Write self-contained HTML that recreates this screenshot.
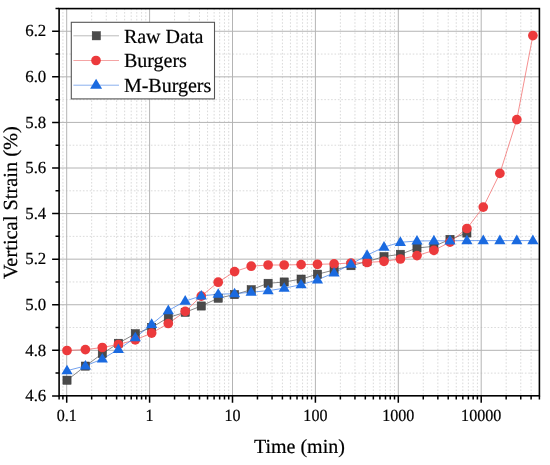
<!DOCTYPE html><html><head><meta charset="utf-8"><style>html,body{margin:0;padding:0;background:#fff;}svg{display:block;}text{text-rendering:geometricPrecision;stroke:#000;stroke-width:0.2px;font-family:"Liberation Serif","Times New Roman",serif;fill:#000;}</style></head><body>
<svg width="550" height="465" viewBox="0 0 550 465">
<rect width="550" height="465" fill="#fff"/>
<path d="M62.91 8.60V395.80M91.66 8.60V395.80M106.25 8.60V395.80M116.61 8.60V395.80M124.64 8.60V395.80M131.21 8.60V395.80M136.76 8.60V395.80M141.57 8.60V395.80M145.81 8.60V395.80M174.56 8.60V395.80M189.15 8.60V395.80M199.51 8.60V395.80M207.54 8.60V395.80M214.11 8.60V395.80M219.66 8.60V395.80M224.47 8.60V395.80M228.71 8.60V395.80M257.46 8.60V395.80M272.05 8.60V395.80M282.41 8.60V395.80M290.44 8.60V395.80M297.01 8.60V395.80M302.56 8.60V395.80M307.37 8.60V395.80M311.61 8.60V395.80M340.36 8.60V395.80M354.95 8.60V395.80M365.31 8.60V395.80M373.34 8.60V395.80M379.91 8.60V395.80M385.46 8.60V395.80M390.27 8.60V395.80M394.51 8.60V395.80M423.26 8.60V395.80M437.85 8.60V395.80M448.21 8.60V395.80M456.24 8.60V395.80M462.81 8.60V395.80M468.36 8.60V395.80M473.17 8.60V395.80M477.41 8.60V395.80M506.16 8.60V395.80M520.75 8.60V395.80M531.11 8.60V395.80M59.10 373.11H539.40M59.10 327.53H539.40M59.10 281.95H539.40M59.10 236.37H539.40M59.10 190.79H539.40M59.10 145.21H539.40M59.10 99.63H539.40M59.10 54.05H539.40" stroke="#d6d6d6" stroke-width="0.9" stroke-dasharray="1.6 1.8" fill="none"/>
<path d="M66.70 8.60V395.80M149.60 8.60V395.80M232.50 8.60V395.80M315.40 8.60V395.80M398.30 8.60V395.80M481.20 8.60V395.80M59.10 350.32H539.40M59.10 304.74H539.40M59.10 259.16H539.40M59.10 213.58H539.40M59.10 168.00H539.40M59.10 122.42H539.40M59.10 76.84H539.40M59.10 31.26H539.40" stroke="#b4b4b4" stroke-width="1" fill="none"/>
<polyline points="67.00,380.20 85.39,366.10 102.31,353.60 118.38,343.30 135.30,333.70 151.66,327.50 168.29,317.50 185.21,312.30 201.28,306.00 218.20,298.20 234.56,294.60 251.19,289.70 268.11,283.30 284.18,282.00 301.10,279.10 317.46,274.20 334.09,270.00 351.01,265.70 367.08,261.50 384.00,256.60 400.36,254.30 416.99,248.00 433.91,246.30 449.98,239.40 466.90,233.00" fill="none" stroke="#555" stroke-width="0.7"/>
<polyline points="67.00,350.50 85.39,349.60 102.31,347.50 118.38,344.50 135.30,339.90 151.66,333.10 168.29,323.50 185.21,311.40 201.28,296.10 218.20,282.20 234.56,271.60 251.19,266.20 268.11,265.00 284.18,265.00 301.10,264.60 317.46,264.30 334.09,263.90 351.01,263.00 367.08,262.50 384.00,261.30 400.36,259.00 416.99,255.60 433.91,250.40 449.98,242.10 466.90,228.50 483.26,207.10 499.89,173.40 516.81,119.60 532.88,35.60" fill="none" stroke="#f06060" stroke-width="0.7"/>
<polyline points="67.00,370.70 85.39,365.90 102.31,359.00 118.38,349.40 135.30,337.70 151.66,324.30 168.29,310.60 185.21,301.10 201.28,295.90 218.20,294.20 234.56,293.70 251.19,292.20 268.11,290.70 284.18,288.20 301.10,284.70 317.46,279.80 334.09,272.90 351.01,264.20 367.08,255.20 384.00,247.10 400.36,242.30 416.99,241.00 433.91,240.80 449.98,240.80 466.90,240.60 483.26,240.60 499.89,240.60 516.81,240.60 532.88,240.60" fill="none" stroke="#3a7be8" stroke-width="0.7"/>
<rect x="62.90" y="376.10" width="8.2" height="8.2" fill="#4a4a4a" stroke="#333" stroke-width="0.5"/>
<rect x="81.29" y="362.00" width="8.2" height="8.2" fill="#4a4a4a" stroke="#333" stroke-width="0.5"/>
<rect x="98.21" y="349.50" width="8.2" height="8.2" fill="#4a4a4a" stroke="#333" stroke-width="0.5"/>
<rect x="114.28" y="339.20" width="8.2" height="8.2" fill="#4a4a4a" stroke="#333" stroke-width="0.5"/>
<rect x="131.20" y="329.60" width="8.2" height="8.2" fill="#4a4a4a" stroke="#333" stroke-width="0.5"/>
<rect x="147.56" y="323.40" width="8.2" height="8.2" fill="#4a4a4a" stroke="#333" stroke-width="0.5"/>
<rect x="164.19" y="313.40" width="8.2" height="8.2" fill="#4a4a4a" stroke="#333" stroke-width="0.5"/>
<rect x="181.11" y="308.20" width="8.2" height="8.2" fill="#4a4a4a" stroke="#333" stroke-width="0.5"/>
<rect x="197.18" y="301.90" width="8.2" height="8.2" fill="#4a4a4a" stroke="#333" stroke-width="0.5"/>
<rect x="214.10" y="294.10" width="8.2" height="8.2" fill="#4a4a4a" stroke="#333" stroke-width="0.5"/>
<rect x="230.46" y="290.50" width="8.2" height="8.2" fill="#4a4a4a" stroke="#333" stroke-width="0.5"/>
<rect x="247.09" y="285.60" width="8.2" height="8.2" fill="#4a4a4a" stroke="#333" stroke-width="0.5"/>
<rect x="264.01" y="279.20" width="8.2" height="8.2" fill="#4a4a4a" stroke="#333" stroke-width="0.5"/>
<rect x="280.08" y="277.90" width="8.2" height="8.2" fill="#4a4a4a" stroke="#333" stroke-width="0.5"/>
<rect x="297.00" y="275.00" width="8.2" height="8.2" fill="#4a4a4a" stroke="#333" stroke-width="0.5"/>
<rect x="313.36" y="270.10" width="8.2" height="8.2" fill="#4a4a4a" stroke="#333" stroke-width="0.5"/>
<rect x="329.99" y="265.90" width="8.2" height="8.2" fill="#4a4a4a" stroke="#333" stroke-width="0.5"/>
<rect x="346.91" y="261.60" width="8.2" height="8.2" fill="#4a4a4a" stroke="#333" stroke-width="0.5"/>
<rect x="362.98" y="257.40" width="8.2" height="8.2" fill="#4a4a4a" stroke="#333" stroke-width="0.5"/>
<rect x="379.90" y="252.50" width="8.2" height="8.2" fill="#4a4a4a" stroke="#333" stroke-width="0.5"/>
<rect x="396.26" y="250.20" width="8.2" height="8.2" fill="#4a4a4a" stroke="#333" stroke-width="0.5"/>
<rect x="412.89" y="243.90" width="8.2" height="8.2" fill="#4a4a4a" stroke="#333" stroke-width="0.5"/>
<rect x="429.81" y="242.20" width="8.2" height="8.2" fill="#4a4a4a" stroke="#333" stroke-width="0.5"/>
<rect x="445.88" y="235.30" width="8.2" height="8.2" fill="#4a4a4a" stroke="#333" stroke-width="0.5"/>
<rect x="462.80" y="228.90" width="8.2" height="8.2" fill="#4a4a4a" stroke="#333" stroke-width="0.5"/>
<circle cx="67.00" cy="350.50" r="4.85" fill="#ec3a3c"/>
<circle cx="85.39" cy="349.60" r="4.85" fill="#ec3a3c"/>
<circle cx="102.31" cy="347.50" r="4.85" fill="#ec3a3c"/>
<circle cx="118.38" cy="344.50" r="4.85" fill="#ec3a3c"/>
<circle cx="135.30" cy="339.90" r="4.85" fill="#ec3a3c"/>
<circle cx="151.66" cy="333.10" r="4.85" fill="#ec3a3c"/>
<circle cx="168.29" cy="323.50" r="4.85" fill="#ec3a3c"/>
<circle cx="185.21" cy="311.40" r="4.85" fill="#ec3a3c"/>
<circle cx="201.28" cy="296.10" r="4.85" fill="#ec3a3c"/>
<circle cx="218.20" cy="282.20" r="4.85" fill="#ec3a3c"/>
<circle cx="234.56" cy="271.60" r="4.85" fill="#ec3a3c"/>
<circle cx="251.19" cy="266.20" r="4.85" fill="#ec3a3c"/>
<circle cx="268.11" cy="265.00" r="4.85" fill="#ec3a3c"/>
<circle cx="284.18" cy="265.00" r="4.85" fill="#ec3a3c"/>
<circle cx="301.10" cy="264.60" r="4.85" fill="#ec3a3c"/>
<circle cx="317.46" cy="264.30" r="4.85" fill="#ec3a3c"/>
<circle cx="334.09" cy="263.90" r="4.85" fill="#ec3a3c"/>
<circle cx="351.01" cy="263.00" r="4.85" fill="#ec3a3c"/>
<circle cx="367.08" cy="262.50" r="4.85" fill="#ec3a3c"/>
<circle cx="384.00" cy="261.30" r="4.85" fill="#ec3a3c"/>
<circle cx="400.36" cy="259.00" r="4.85" fill="#ec3a3c"/>
<circle cx="416.99" cy="255.60" r="4.85" fill="#ec3a3c"/>
<circle cx="433.91" cy="250.40" r="4.85" fill="#ec3a3c"/>
<circle cx="449.98" cy="242.10" r="4.85" fill="#ec3a3c"/>
<circle cx="466.90" cy="228.50" r="4.85" fill="#ec3a3c"/>
<circle cx="483.26" cy="207.10" r="4.85" fill="#ec3a3c"/>
<circle cx="499.89" cy="173.40" r="4.85" fill="#ec3a3c"/>
<circle cx="516.81" cy="119.60" r="4.85" fill="#ec3a3c"/>
<circle cx="532.88" cy="35.60" r="4.85" fill="#ec3a3c"/>
<path d="M67.00 364.70L72.60 374.30L61.40 374.30Z" fill="#1a6ae0"/>
<path d="M85.39 359.90L90.99 369.50L79.79 369.50Z" fill="#1a6ae0"/>
<path d="M102.31 353.00L107.91 362.60L96.71 362.60Z" fill="#1a6ae0"/>
<path d="M118.38 343.40L123.98 353.00L112.78 353.00Z" fill="#1a6ae0"/>
<path d="M135.30 331.70L140.90 341.30L129.70 341.30Z" fill="#1a6ae0"/>
<path d="M151.66 318.30L157.26 327.90L146.06 327.90Z" fill="#1a6ae0"/>
<path d="M168.29 304.60L173.89 314.20L162.69 314.20Z" fill="#1a6ae0"/>
<path d="M185.21 295.10L190.81 304.70L179.61 304.70Z" fill="#1a6ae0"/>
<path d="M201.28 289.90L206.88 299.50L195.68 299.50Z" fill="#1a6ae0"/>
<path d="M218.20 288.20L223.80 297.80L212.60 297.80Z" fill="#1a6ae0"/>
<path d="M234.56 287.70L240.16 297.30L228.96 297.30Z" fill="#1a6ae0"/>
<path d="M251.19 286.20L256.79 295.80L245.59 295.80Z" fill="#1a6ae0"/>
<path d="M268.11 284.70L273.71 294.30L262.51 294.30Z" fill="#1a6ae0"/>
<path d="M284.18 282.20L289.78 291.80L278.58 291.80Z" fill="#1a6ae0"/>
<path d="M301.10 278.70L306.70 288.30L295.50 288.30Z" fill="#1a6ae0"/>
<path d="M317.46 273.80L323.06 283.40L311.86 283.40Z" fill="#1a6ae0"/>
<path d="M334.09 266.90L339.69 276.50L328.49 276.50Z" fill="#1a6ae0"/>
<path d="M351.01 258.20L356.61 267.80L345.41 267.80Z" fill="#1a6ae0"/>
<path d="M367.08 249.20L372.68 258.80L361.48 258.80Z" fill="#1a6ae0"/>
<path d="M384.00 241.10L389.60 250.70L378.40 250.70Z" fill="#1a6ae0"/>
<path d="M400.36 236.30L405.96 245.90L394.76 245.90Z" fill="#1a6ae0"/>
<path d="M416.99 235.00L422.59 244.60L411.39 244.60Z" fill="#1a6ae0"/>
<path d="M433.91 234.80L439.51 244.40L428.31 244.40Z" fill="#1a6ae0"/>
<path d="M449.98 234.80L455.58 244.40L444.38 244.40Z" fill="#1a6ae0"/>
<path d="M466.90 234.60L472.50 244.20L461.30 244.20Z" fill="#1a6ae0"/>
<path d="M483.26 234.60L488.86 244.20L477.66 244.20Z" fill="#1a6ae0"/>
<path d="M499.89 234.60L505.49 244.20L494.29 244.20Z" fill="#1a6ae0"/>
<path d="M516.81 234.60L522.41 244.20L511.21 244.20Z" fill="#1a6ae0"/>
<path d="M532.88 234.60L538.48 244.20L527.28 244.20Z" fill="#1a6ae0"/>
<rect x="59.10" y="8.60" width="480.30" height="387.20" fill="none" stroke="#000" stroke-width="1.6"/>
<path d="M66.70 395.80V402.80M149.60 395.80V402.80M232.50 395.80V402.80M315.40 395.80V402.80M398.30 395.80V402.80M481.20 395.80V402.80M59.10 395.90H52.10M59.10 350.32H52.10M59.10 304.74H52.10M59.10 259.16H52.10M59.10 213.58H52.10M59.10 168.00H52.10M59.10 122.42H52.10M59.10 76.84H52.10M59.10 31.26H52.10" stroke="#000" stroke-width="1.5" fill="none"/>
<path d="M59.10 395.80V399.60M62.91 395.80V399.60M91.66 395.80V399.60M106.25 395.80V399.60M116.61 395.80V399.60M124.64 395.80V399.60M131.21 395.80V399.60M136.76 395.80V399.60M141.57 395.80V399.60M145.81 395.80V399.60M174.56 395.80V399.60M189.15 395.80V399.60M199.51 395.80V399.60M207.54 395.80V399.60M214.11 395.80V399.60M219.66 395.80V399.60M224.47 395.80V399.60M228.71 395.80V399.60M257.46 395.80V399.60M272.05 395.80V399.60M282.41 395.80V399.60M290.44 395.80V399.60M297.01 395.80V399.60M302.56 395.80V399.60M307.37 395.80V399.60M311.61 395.80V399.60M340.36 395.80V399.60M354.95 395.80V399.60M365.31 395.80V399.60M373.34 395.80V399.60M379.91 395.80V399.60M385.46 395.80V399.60M390.27 395.80V399.60M394.51 395.80V399.60M423.26 395.80V399.60M437.85 395.80V399.60M448.21 395.80V399.60M456.24 395.80V399.60M462.81 395.80V399.60M468.36 395.80V399.60M473.17 395.80V399.60M477.41 395.80V399.60M506.16 395.80V399.60M520.75 395.80V399.60M531.11 395.80V399.60M539.40 395.80V399.60M59.10 373.11H55.50M59.10 327.53H55.50M59.10 281.95H55.50M59.10 236.37H55.50M59.10 190.79H55.50M59.10 145.21H55.50M59.10 99.63H55.50M59.10 54.05H55.50M59.10 8.60H55.50" stroke="#000" stroke-width="1.5" fill="none"/>
<text transform="translate(46.25 401.10) scale(0.99 1)" font-size="17.0" text-anchor="end">4.6</text>
<text transform="translate(46.25 355.52) scale(0.99 1)" font-size="17.0" text-anchor="end">4.8</text>
<text transform="translate(46.25 309.94) scale(0.99 1)" font-size="17.0" text-anchor="end">5.0</text>
<text transform="translate(46.25 264.36) scale(0.99 1)" font-size="17.0" text-anchor="end">5.2</text>
<text transform="translate(46.25 218.78) scale(0.99 1)" font-size="17.0" text-anchor="end">5.4</text>
<text transform="translate(46.25 173.20) scale(0.99 1)" font-size="17.0" text-anchor="end">5.6</text>
<text transform="translate(46.25 127.62) scale(0.99 1)" font-size="17.0" text-anchor="end">5.8</text>
<text transform="translate(46.25 82.04) scale(0.99 1)" font-size="17.0" text-anchor="end">6.0</text>
<text transform="translate(46.25 36.46) scale(0.99 1)" font-size="17.0" text-anchor="end">6.2</text>
<text transform="translate(66.70 421.10) scale(0.94 1)" font-size="17.1" text-anchor="middle">0.1</text>
<text transform="translate(149.60 421.10) scale(0.94 1)" font-size="17.1" text-anchor="middle">1</text>
<text transform="translate(232.50 421.10) scale(0.94 1)" font-size="17.1" text-anchor="middle">10</text>
<text transform="translate(315.40 421.10) scale(0.94 1)" font-size="17.1" text-anchor="middle">100</text>
<text transform="translate(398.30 421.10) scale(0.94 1)" font-size="17.1" text-anchor="middle">1000</text>
<text transform="translate(481.20 421.10) scale(0.94 1)" font-size="17.1" text-anchor="middle">10000</text>
<text x="299.4" y="452.6" font-size="20.0" text-anchor="middle">Time (min)</text>
<text transform="translate(17.0 279.1) rotate(-90) scale(1.02 1)" font-size="20.0">Vertical Strain (%)</text>
<rect x="71.3" y="22.3" width="143.2" height="76.6" fill="#fff" stroke="#555" stroke-width="1.1"/>
<line x1="73.4" y1="35.8" x2="119" y2="35.8" stroke="#bbb" stroke-width="1"/>
<line x1="73.4" y1="60.5" x2="119" y2="60.5" stroke="#f4a4a4" stroke-width="1"/>
<line x1="73.4" y1="85.2" x2="119" y2="85.2" stroke="#8ab0ee" stroke-width="1"/>
<rect x="92.20" y="31.70" width="8.2" height="8.2" fill="#4a4a4a" stroke="#333" stroke-width="0.5"/>
<circle cx="96.0" cy="60.5" r="4.85" fill="#ec3a3c"/>
<path d="M96.1 78.7L102.09 88.78L90.11 88.78Z" fill="#1a6ae0"/>
<text x="123.92" y="42.8" font-size="20.0">Raw Data</text>
<text x="123.92" y="67.3" font-size="20.0">Burgers</text>
<text x="123.92" y="92.2" font-size="20.0">M-Burgers</text>
</svg></body></html>
